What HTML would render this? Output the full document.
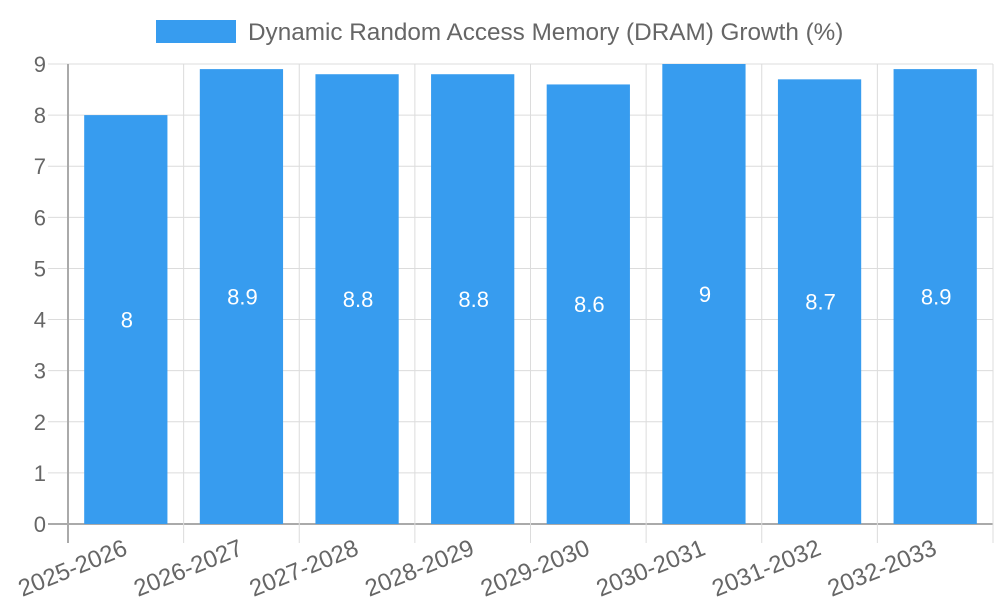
<!DOCTYPE html>
<html><head><meta charset="utf-8"><style>
body{margin:0;background:#fff;font-family:"Liberation Sans",sans-serif}
svg{display:block}
</style></head><body>
<svg id="c" width="1000" height="600">
<g>
<rect x="156" y="20" width="80" height="23" fill="#379cef"/>
<text x="248" y="40" font-size="24.3" fill="#666">Dynamic Random Access Memory (DRAM) Growth (%)</text>
</g>
<g id="grid"></g><g id="bars"></g><g id="axes"></g>
</svg>
<script>
const categories=["2025-2026","2026-2027","2027-2028","2028-2029","2029-2030","2030-2031","2031-2032","2032-2033"];
const values=[8,8.9,8.8,8.8,8.6,9,8.7,8.9];
const yTicks=[0,1,2,3,4,5,6,7,8,9];
const NS="http://www.w3.org/2000/svg";
const L=68,R=993,T=64,B=524,yMax=9;
const y=v=>B-(v/yMax)*(B-T);
const bw=(R-L)/categories.length;
const x=i=>L+i*bw;
function mk(p,tag,a){const e=document.createElementNS(NS,tag);for(const k in a)e.setAttribute(k,a[k]);document.getElementById(p).appendChild(e);return e;}
yTicks.forEach(t=>{
 const l=mk('grid','line',{x1:48,x2:R,y1:y(t),y2:y(t),stroke:t===0?'#aaa':'#dcdcdc','stroke-width':t===0?2:1});
 
 
 const tx=mk('axes','text',{x:46,y:y(t)+8,'text-anchor':'end','font-size':22,fill:'#666'});
 tx.textContent=t;
 
 
});
for(let i=0;i<=categories.length;i++){
 const l=mk('grid','line',{x1:x(i),x2:x(i),y1:T,y2:B+19,stroke:i===0?'#aaa':'#dcdcdc','stroke-width':i===0?2:1});
 
 
}
categories.forEach((c,i)=>{
 const cx=x(i)+bw/2,w=bw*0.72;
 const r=mk('bars','rect',{x:cx-w/2,y:y(values[i]),width:w,height:B-y(values[i]),fill:'#379cef'});
 
 
 const v=mk('bars','text',{x:cx+1,y:(y(values[i])+B)/2+8,'text-anchor':'middle','font-size':22,fill:'#fff'});
 v.textContent=values[i];
 
 
 const t=mk('axes','text',{x:cx+3,y:B+30,'text-anchor':'end','font-size':24,fill:'#666',transform:`rotate(-22 ${cx+3} ${B+30})`});
 t.textContent=c;
 
 
});
</script>
</body></html>
